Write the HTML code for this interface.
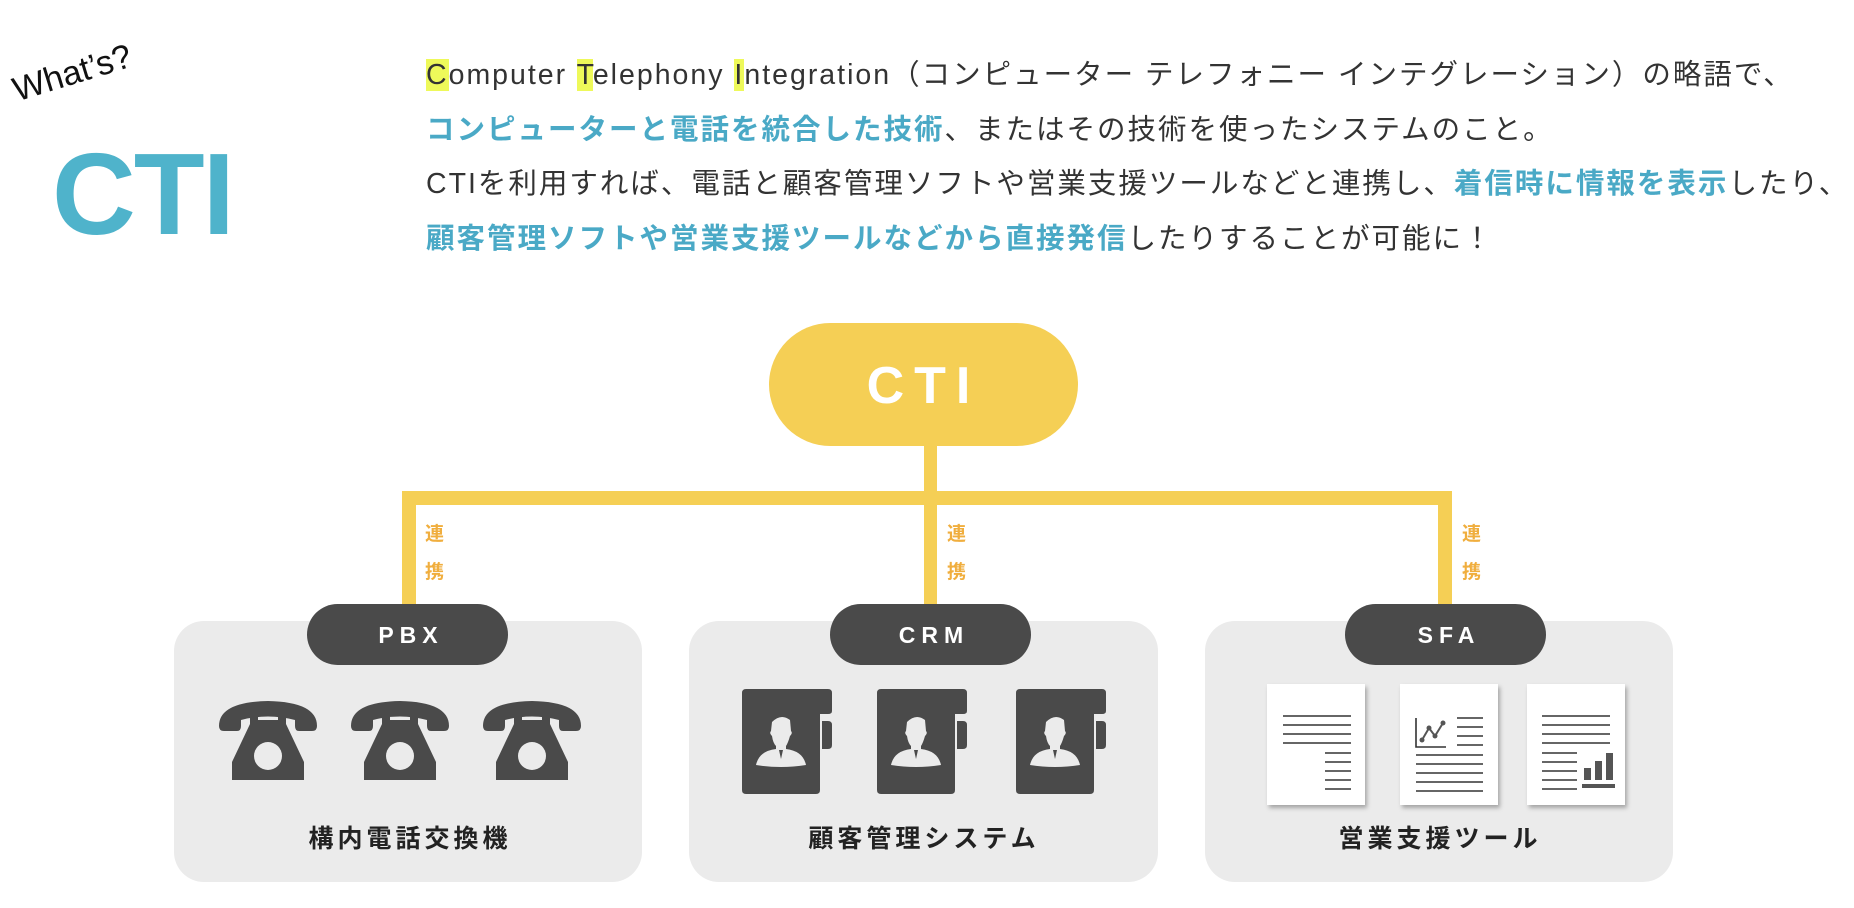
<!DOCTYPE html>
<html><head><meta charset="utf-8"><style>
body{margin:0;width:1854px;height:908px;background:#fff;overflow:hidden;position:relative;font-family:"Liberation Sans","Noto Sans CJK JP",sans-serif}
.what{position:absolute;left:14px;top:72px;font-size:34px;color:#111;transform:rotate(-17deg);transform-origin:left center}
.cti{position:absolute;left:52px;top:136px;font-size:116px;font-weight:bold;color:#4fb3cb;letter-spacing:-2px;line-height:1}
.txt{position:absolute;left:426px;top:48px;font-size:28.5px;color:#333;line-height:54.5px;white-space:nowrap;letter-spacing:2px}
.hl{background:#eef95a}
.b{color:#4aa9c6;font-weight:bold}
</style></head><body>
<div class="what">What’s?</div>
<div class="cti">CTI</div>
<div class="txt"><span class="hl">C</span>omputer <span class="hl">T</span>elephony <span class="hl">I</span>ntegration（コンピューター テレフォニー インテグレーション）の略語で、<br><span class="b">コンピューターと電話を統合した技術</span>、またはその技術を使ったシステムのこと。<br>CTIを利用すれば、電話と顧客管理ソフトや営業支援ツールなどと連携し、<span class="b">着信時に情報を表示</span>したり、<br><span class="b">顧客管理ソフトや営業支援ツールなどから直接発信</span>したりすることが可能に！</div>
<svg width="1854" height="908" style="position:absolute;left:0;top:0" xmlns="http://www.w3.org/2000/svg">
<defs>
<filter id="sh" x="-20%" y="-20%" width="150%" height="150%"><feDropShadow dx="2" dy="3" stdDeviation="2" flood-color="#000" flood-opacity="0.3"/></filter>
<g id="phone" fill="#4a4a4a">
<path d="M0 28 Q0 4 49 3 Q98 4 98 28 Q98 33 93 33 L80 33 Q76 33 76 28 L76 22 Q49 15 22 22 L22 28 Q22 33 18 33 L5 33 Q0 33 0 28Z"/>
<path d="M31 16 L39 16 L39 22 L59 22 L59 16 L67 16 L67 26 L85 64 L85 82 L13 82 L13 64 L31 26Z"/>
<circle cx="49" cy="58" r="14" fill="#ebebeb"/>
</g>
<g id="card">
<path d="M4 0 L86 0 Q90 0 90 4 L90 22 Q90 25 86 25 L78 25 L78 101 Q78 105 74 105 L4 105 Q0 105 0 101 L0 4 Q0 0 4 0Z" fill="#4a4a4a"/>
<path d="M80 32 L86 32 Q90 32 90 36 L90 56 Q90 60 86 60 L80 60Z" fill="#4a4a4a"/>
<path d="M30 33 Q39 24 48 31 L49 42 Q51 44 48 47 Q46 54 44 57 L44 60 Q61 62 64 76 Q39 80 14 76 Q17 62 34 60 L34 57 Q31 54 30 47 Q27 44 29 42Z" fill="#ebebeb"/>
<path d="M37 61 L39 70 L41 61Z" fill="#4a4a4a"/>
</g>
</defs>
<g fill="#f5cf55">
<rect x="924" y="440" width="13" height="65"/>
<rect x="402" y="491" width="1049" height="14"/>
<rect x="402" y="491" width="14" height="116"/>
<rect x="924" y="491" width="13" height="116"/>
<rect x="1438" y="491" width="14" height="116"/>
<rect x="769" y="323" width="309" height="123" rx="61.5"/>
</g>
<text x="923.5" y="403" text-anchor="middle" font-size="52" font-weight="bold" fill="#fff" letter-spacing="10" font-family="Liberation Sans, sans-serif">CTI</text>
<g fill="#f0ae3e" font-size="19" font-weight="bold" font-family="Liberation Sans, Noto Sans CJK JP, sans-serif">
<text x="425" y="540">連</text><text x="425" y="578">携</text>
<text x="947" y="540">連</text><text x="947" y="578">携</text>
<text x="1462" y="540">連</text><text x="1462" y="578">携</text>
</g>
<g fill="#ebebeb">
<rect x="174" y="621" width="468" height="261" rx="30"/>
<rect x="689" y="621" width="469" height="261" rx="30"/>
<rect x="1205" y="621" width="468" height="261" rx="30"/>
</g>
<g fill="#4a4a4a">
<rect x="307" y="604" width="201" height="61" rx="30.5"/>
<rect x="830" y="604" width="201" height="61" rx="30.5"/>
<rect x="1345" y="604" width="201" height="61" rx="30.5"/>
</g>
<g fill="#fff" font-size="23" font-weight="bold" text-anchor="middle" letter-spacing="6" font-family="Liberation Sans, sans-serif">
<text x="411" y="643">PBX</text><text x="934" y="643">CRM</text><text x="1449" y="643">SFA</text>
</g>
<use href="#phone" x="219" y="698"/><use href="#phone" x="351" y="698"/><use href="#phone" x="483" y="698"/>
<use href="#card" x="742" y="689"/><use href="#card" x="877" y="689"/><use href="#card" x="1016" y="689"/>
<g filter="url(#sh)" fill="#fff">
<rect x="1267" y="684" width="98" height="121"/>
<rect x="1400" y="684" width="98" height="121"/>
<rect x="1527" y="684" width="98" height="121"/>
</g>
<g stroke="#333" stroke-width="1.6">
<path d="M1283 716h68M1283 725h68M1283 734h68M1283 743h68M1325 753h26M1325 762h26M1325 771h26M1325 780h26M1325 789h26"/>
<path d="M1457 718h26M1457 727h26M1457 736h26M1457 745h26M1416 755h67M1416 764h67M1416 773h67M1416 782h67M1416 791h67"/>
<path d="M1416 718v29h30" fill="none"/>
<path d="M1542 716h68M1542 725h68M1542 734h68M1542 743h68M1542 753h35M1542 762h35M1542 771h35M1542 780h35M1542 789h35"/>
</g>
<polyline points="1422,740 1429,728 1435,736 1443,723" fill="none" stroke="#555" stroke-width="2"/>
<g fill="#555"><circle cx="1422" cy="740" r="2.5"/><circle cx="1429" cy="728" r="2.5"/><circle cx="1435" cy="736" r="2.5"/><circle cx="1443" cy="723" r="2.5"/>
<rect x="1584" y="768" width="7" height="12"/><rect x="1595" y="761" width="7" height="19"/><rect x="1606" y="753" width="7" height="27"/><rect x="1582" y="784" width="33" height="4"/></g>
<g fill="#222" font-size="25" font-weight="bold" text-anchor="middle" letter-spacing="4" font-family="Liberation Sans, Noto Sans CJK JP, sans-serif">
<text x="410" y="847">構内電話交換機</text><text x="924" y="847">顧客管理システム</text><text x="1440" y="847">営業支援ツール</text>
</g>
</svg>
</body></html>
